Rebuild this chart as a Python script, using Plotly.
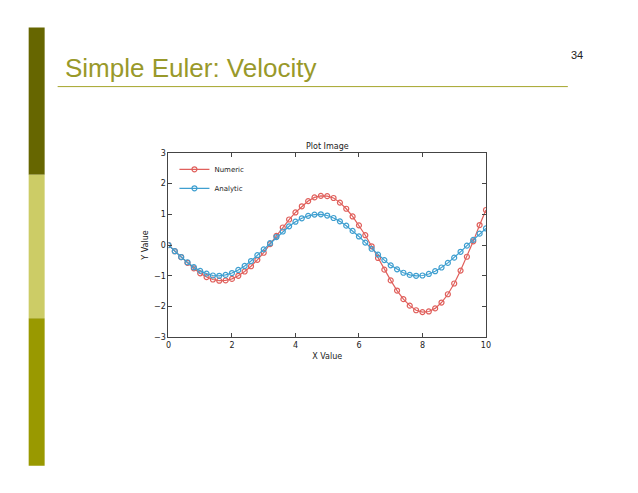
import plotly.graph_objects as go

x_values = [round(i * 0.2, 1) for i in range(51)]
numeric = [0, -0.2, -0.39, -0.58, -0.76, -0.92, -1.04, -1.12, -1.16, -1.15,
           -1.1, -1.0, -0.86, -0.69, -0.48, -0.25, 0.03, 0.3, 0.57, 0.83,
           1.06, 1.26, 1.43, 1.55, 1.6, 1.59, 1.53, 1.38, 1.18, 0.93,
           0.64, 0.32, -0.04, -0.42, -0.8, -1.15, -1.48, -1.76, -1.97, -2.12,
           -2.18, -2.16, -2.06, -1.87, -1.6, -1.25, -0.83, -0.38, 0.12, 0.65, 1.14]
analytic = [0, -0.2, -0.39, -0.56, -0.72, -0.84, -0.93, -0.99, -1.0, -0.97,
            -0.91, -0.81, -0.68, -0.52, -0.33, -0.14, 0.06, 0.26, 0.44, 0.61,
            0.76, 0.87, 0.95, 0.99, 1.0, 0.96, 0.88, 0.77, 0.63, 0.46,
            0.28, 0.08, -0.12, -0.31, -0.49, -0.66, -0.79, -0.9, -0.97, -1.0,
            -0.99, -0.94, -0.85, -0.73, -0.58, -0.41, -0.22, -0.02, 0.17, 0.37, 0.54]

W, H = 638, 493
# pixel positions on the slide, corrected for how the page gets placed in the window
def px(v): return max(0.0, min(1.0, ((v - 10.3) / 0.989) / W))
def py(v): return max(0.0, min(1.0, 1 - ((v - 12.6) / 0.979) / H))

fig = go.Figure()
for name, ys, col in [("Numeric", numeric, "#e0605c"), ("Analytic", analytic, "#3f9fd0")]:
  fig.add_trace(go.Scatter(
    x=x_values, y=ys, name=name, mode="lines+markers",
    line=dict(color=col, width=1.2),
    marker=dict(symbol="circle-open", size=5, color=col, line=dict(width=1.2))
  ))

axis_common = dict(showgrid=False, zeroline=False, showline=True, mirror="ticks",
                   linecolor="#444", linewidth=1, ticks="inside", ticklen=4,
                   tickcolor="#444", tickfont=dict(size=8, family="DejaVu Sans", color="#222"))

shapes = [
  dict(type="rect", xref="paper", yref="paper", x0=px(28), x1=px(44), y0=py(175), y1=py(28),
       fillcolor="#666600", line_width=0),
  dict(type="rect", xref="paper", yref="paper", x0=px(28), x1=px(44), y0=py(318), y1=py(175),
       fillcolor="#cccc66", line_width=0),
  dict(type="rect", xref="paper", yref="paper", x0=px(28), x1=px(44), y0=py(465), y1=py(318),
       fillcolor="#999900", line_width=0),
  dict(type="line", xref="paper", yref="paper", x0=px(57), x1=px(568), y0=py(87), y1=py(87),
       line=dict(color="#a5a52a", width=1)),
]

annotations = [
  dict(text="Simple Euler: Velocity", x=px(62), y=py(68), xref="paper", yref="paper",
       xanchor="left", yanchor="middle", showarrow=False,
       font=dict(size=26, family="Liberation Sans Narrow, Liberation Sans", color="#99992a")),
  dict(text="34", x=px(585), y=py(48), xref="paper", yref="paper", showarrow=False,
       font=dict(size=11, family="Liberation Sans", color="#222")),
  dict(text="Plot Image", x=px(327), y=py(140), xref="paper", yref="paper", showarrow=False,
       font=dict(size=8, family="DejaVu Sans", color="#222")),
]

fig.update_layout(
  width=W, height=H, autosize=False,
  margin=dict(l=0, r=0, t=0, b=0),
  paper_bgcolor="white", plot_bgcolor="white",
  shapes=shapes, annotations=annotations,
  xaxis=dict(domain=[px(168), px(486)], range=[0, 10], tickvals=[0, 2, 4, 6, 8, 10],
             title=dict(text="X Value", font=dict(size=8, family="DejaVu Sans", color="#222"), standoff=4),
             **axis_common),
  yaxis=dict(domain=[py(337), py(153)], range=[-3, 3], tickvals=[-3, -2, -1, 0, 1, 2, 3],
             title=dict(text="Y Value", font=dict(size=8, family="DejaVu Sans", color="#222"), standoff=4),
             **axis_common),
  legend=dict(x=px(174), y=py(155), xanchor="left", yanchor="top", bgcolor="rgba(0,0,0,0)",
              font=dict(size=7, family="DejaVu Sans", color="#222"), tracegroupgap=0,
              itemwidth=30),
  showlegend=True,
)

fig.write_html("out.html")
